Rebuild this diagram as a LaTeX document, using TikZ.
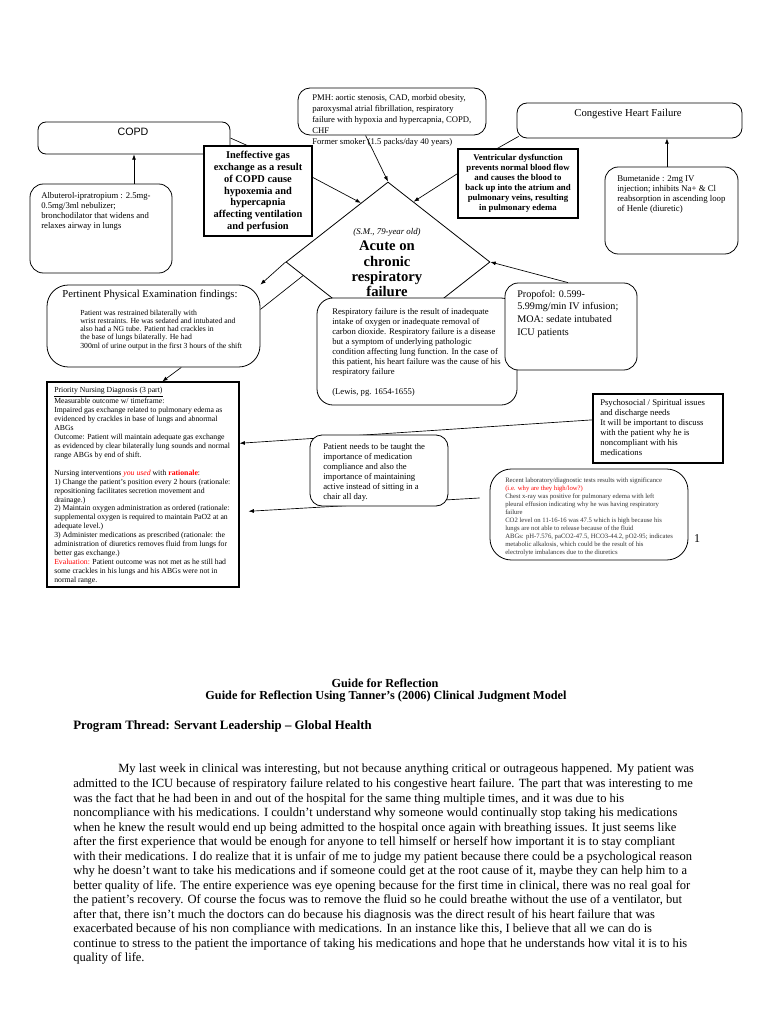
\documentclass[tikz,border=0pt]{standalone}
\usepackage{fontspec}
\setmainfont{Liberation Serif}
\newfontfamily\arialf{Liberation Sans}
\usetikzlibrary{arrows.meta,shapes.geometric,fit,calc,backgrounds}
\pgfdeclarelayer{paper}
\pgfsetlayers{paper,background,main}
\tikzset{
  lnk/.style={line width=0.5pt},
  arr/.style={lnk,-{Latex[length=4pt,width=3pt]}},
  rbox/.style={draw, fill=white, inner sep=0pt, line width=0.6pt},
  sbox/.style={draw, fill=white, inner sep=0pt, line width=0.9pt},
  txt/.style={inner sep=0pt, anchor=north west, align=left},
  ctxt/.style={inner sep=0pt, align=center},
}
\begin{document}
\begin{tikzpicture}[x=0.75pt,y=-0.75pt]
\useasboundingbox (0,0) rectangle (768,1024);
\begin{pgfonlayer}{paper}
\fill[white] (0,0) rectangle (768,1024);
\end{pgfonlayer}

% diamond
\node[draw, diamond, line width=0.6pt, minimum width=153pt, minimum height=120pt, inner sep=0pt] (dia) at (388,262) {};

% boxes
\node[rbox, rounded corners=6pt, fit={(38,122) (230,154)}] (copd) {};
\node[rbox, rounded corners=10pt, fit={(30,184) (172,273)}] (albu) {};
\node[sbox, fit={(204,146) (312,236)}] (ineff) {};
\node[rbox, rounded corners=9pt, fit={(298,88) (486,135)}] (pmh) {};
\node[rbox, rounded corners=7.5pt, fit={(517,103) (742,138)}] (chf) {};
\node[sbox, fit={(458,149) (578,218)}] (vent) {};
\node[rbox, rounded corners=10pt, fit={(605,167) (738,254)}] (bum) {};
\node[rbox, rounded corners=12pt, fit={(317,298) (517,405)}] (resp) {};
\node[rbox, rounded corners=10pt, fit={(505,283) (637,370)}] (prop) {};
\node[rbox, rounded corners=16pt, fit={(47,285) (260,367)}] (pert) {};
\node[rbox, line width=0.8pt, rounded corners=0pt, fit={(47,382) (239,587)}] (prio) {};
\node[sbox, fit={(593,394) (723,463)}] (psych) {};
\node[rbox, rounded corners=9pt, fit={(310,435) (448,506)}] (patient) {};
\node[rbox, rounded corners=16pt, fit={(490,469) (688,560)}] (lab) {};

% connectors
\begin{scope}[on background layer]
\draw[arr] (albu.north -| copd.south) -- (copd.south);
\draw[lnk] (copd.east) -- ($(ineff.north west)!0.4!(ineff.north east)$);
\draw[arr] ($(ineff.north east)!0.35!(ineff.south east)$) -- ($(dia.north)!0.265!(dia.west)$);
\draw[arr] ($(pmh.south west)!0.36!(pmh.south east)$) -- (dia.north);
\draw[lnk] ($(chf.south west)+(2,-2)$) -- ($(vent.north west)!0.33!(vent.north east)$);
\draw[arr] ($(vent.north west)!0.36!(vent.south west)$) -- ($(dia.north)!0.25!(dia.east)$);
\coordinate (b1) at ($(bum.north west)!0.466!(bum.north east)$);
\draw[arr] (b1) -- (b1 |- chf.south);
\draw[arr] ($(prop.north west)!0.477!(prop.north east)$) -- (dia.east);
\draw[arr] (dia.west) -- (pert.north east);
\draw[lnk] ($(pert.north east)!0.3!(pert.south east)$) -- ($(dia.west)!0.17!(dia.south)$);
\draw[arr] ($(pert.south west)!0.63!(pert.south east)$) -- ($(prio.north west)!0.6!(prio.north east)$);
\draw[arr] ($(psych.north west)!0.377!(psych.south west)$) -- ($(prio.north east)!0.3!(prio.south east)$);
\draw[arr] ($(lab.north west)!0.32!(lab.south west)+(-10,0)$) -- ($(prio.north east)!0.63!(prio.south east)+(9,0)$);
\end{scope}

% texts
\node[ctxt, font=\arialf\fontsize{8}{9.6}\selectfont] (copdt) at (133,132) {COPD};
\node[txt, font=\fontsize{6.5}{7.5}\selectfont] (albut) at (41,192) {Albuterol-ipratropium : 2.5mg-\\0.5mg/3ml nebulizer;\\bronchodilator that widens and\\relaxes airway in lungs};
\node[ctxt, font=\bfseries\fontsize{7.8}{8.85}\selectfont] (inefft) at (258,191.5) {Ineffective gas\\exchange as a result\\of COPD cause\\hypoxemia and\\hypercapnia\\affecting ventilation\\and perfusion};
\node[txt, font=\fontsize{6.5}{8.2}\selectfont] (pmht) at (312,94) {PMH: aortic stenosis, CAD, morbid obesity,\\paroxysmal atrial fibrillation, respiratory\\failure with hypoxia and hypercapnia, COPD,\\CHF\\Former smoker (1.5 packs/day 40 years)};
\node[ctxt, font=\fontsize{8}{9.6}\selectfont] (chft) at (628,114) {Congestive Heart Failure};
\node[ctxt, font=\bfseries\fontsize{6.6}{7.4}\selectfont] (ventt) at (518,183.5) {Ventricular dysfunction\\prevents normal blood flow\\and causes the blood to\\back up into the atrium and\\pulmonary veins, resulting\\in pulmonary edema};
\node[txt, font=\fontsize{6.6}{7.5}\selectfont] (bumt) at (617,175) {Bumetanide : 2mg IV\\injection; inhibits Na+ \& Cl\\reabsorption in ascending loop\\of Henle (diuretic)};
\node[ctxt, font=\itshape\fontsize{6.6}{8}\selectfont] (smt) at (387,232) {(S.M., 79-year old)};
\node[ctxt, font=\bfseries\fontsize{11}{11.6}\selectfont] (diat) at (387,269) {Acute on\\chronic\\respiratory\\failure};
\node[txt, font=\fontsize{7.6}{9.4}\selectfont] (propt) at (517,290) {Propofol: 0.599-\\5.99mg/min IV infusion;\\MOA: sedate intubated\\ICU patients};
\node[txt, font=\fontsize{6.5}{7.5}\selectfont] (respt) at (332,308) {Respiratory failure is the result of inadequate\\intake of oxygen or inadequate removal of\\carbon dioxide. Respiratory failure is a disease\\but a symptom of underlying pathologic\\condition affecting lung function. In the case of\\this patient, his heart failure was the cause of his\\respiratory failure\\[7.5pt](Lewis, pg. 1654-1655)};
\node[ctxt, font=\fontsize{8}{9.6}\selectfont] (pertt) at (150,295) {Pertinent Physical Examination findings:};
\node[txt, font=\fontsize{5.8}{6.2}\selectfont] (pertb) at (80,309.5) {Patient was restrained bilaterally with\\wrist restraints. He was sedated and intubated and\\also had a NG tube. Patient had crackles in\\the base of lungs bilaterally. He had\\300ml of urine output in the first 3 hours of the shift};
\node[txt, font=\fontsize{5.8}{6.7}\selectfont] (priot) at (54,387) {\underline{Priority Nursing Diagnosis (3 part)}\\Measurable outcome w/ timeframe:\\Impaired gas exchange related to pulmonary edema as\\evidenced by crackles in base of lungs and abnormal\\ABGs\\Outcome: Patient will maintain adequate gas exchange\\as evidenced by clear bilaterally lung sounds and normal\\range ABGs by end of shift.\\[6.7pt]Nursing interventions \textcolor{red}{\itshape you used} with \textcolor{red}{\bfseries rationale}:\\1) Change the patient's position every 2 hours (rationale:\\repositioning facilitates secretion movement and\\drainage.)\\2) Maintain oxygen administration as ordered (rationale:\\supplemental oxygen is required to maintain PaO2 at an\\adequate level.)\\3) Administer medications as prescribed (rationale: the\\administration of diuretics removes fluid from lungs for\\better gas exchange.)\\\textcolor{red}{Evaluation:} Patient outcome was not met as he still had\\some crackles in his lungs and his ABGs were not in\\normal range.};
\node[txt, font=\fontsize{6.5}{7.5}\selectfont] (psycht) at (600,399) {Psychosocial / Spiritual issues\\and discharge needs\\It will be important to discuss\\with the patient why he is\\noncompliant with his\\medications};
\node[txt, font=\fontsize{6.5}{7.6}\selectfont] (patt) at (323,443) {Patient needs to be taught the\\importance of medication\\compliance and also the\\importance of maintaining\\active instead of sitting in a\\chair all day.};
\node[txt, font=\fontsize{5.0}{6.0}\selectfont, text=black!80] (labt) at (505,477.5) {Recent laboratory/diagnostic tests results with significance\\\textcolor{red}{(i.e. why are they high/low?)}\\Chest x-ray was positive for pulmonary edema with left\\pleural effusion indicating why he was having respiratory\\failure\\CO2 level on 11-16-16 was 47.5 which is high because his\\lungs are not able to release because of the fluid\\ABGs: pH-7.576, paCO2-47.5, HCO3-44.2, pO2-95; indicates\\metabolic alkalosis, which could be the result of his\\electrolyte imbalances due to the diuretics};
\node[ctxt, font=\fontsize{9}{10}\selectfont] (pgnum) at (697,539) {1};

% reflection
\node[ctxt, font=\bfseries\fontsize{9.2}{10.9}\selectfont] (t1) at (385,683) {Guide for Reflection};
\node[ctxt, font=\bfseries\fontsize{9.2}{10.9}\selectfont] (t2) at (386,697) {Guide for Reflection Using Tanner's (2006) Clinical Judgment Model};
\node[inner sep=0pt, anchor=west, font=\bfseries\fontsize{9.6}{10.9}\selectfont] (thread) at (73,726) {Program Thread: Servant Leadership -- Global Health};
\node[txt, font=\fontsize{9.4}{10.9}\selectfont] (body) at (73,764) {\hspace*{33.75pt}My last week in clinical was interesting, but not because anything critical or outrageous happened. My patient was\\admitted to the ICU because of respiratory failure related to his congestive heart failure. The part that was interesting to me\\was the fact that he had been in and out of the hospital for the same thing multiple times, and it was due to his\\noncompliance with his medications. I couldn't understand why someone would continually stop taking his medications\\when he knew the result would end up being admitted to the hospital once again with breathing issues. It just seems like\\after the first experience that would be enough for anyone to tell himself or herself how important it is to stay compliant\\with their medications. I do realize that it is unfair of me to judge my patient because there could be a psychological reason\\why he doesn't want to take his medications and if someone could get at the root cause of it, maybe they can help him to a\\better quality of life. The entire experience was eye opening because for the first time in clinical, there was no real goal for\\the patient's recovery. Of course the focus was to remove the fluid so he could breathe without the use of a ventilator, but\\after that, there isn't much the doctors can do because his diagnosis was the direct result of his heart failure that was\\exacerbated because of his non compliance with medications. In an instance like this, I believe that all we can do is\\continue to stress to the patient the importance of taking his medications and hope that he understands how vital it is to his\\quality of life.};
\end{tikzpicture}
\end{document}
